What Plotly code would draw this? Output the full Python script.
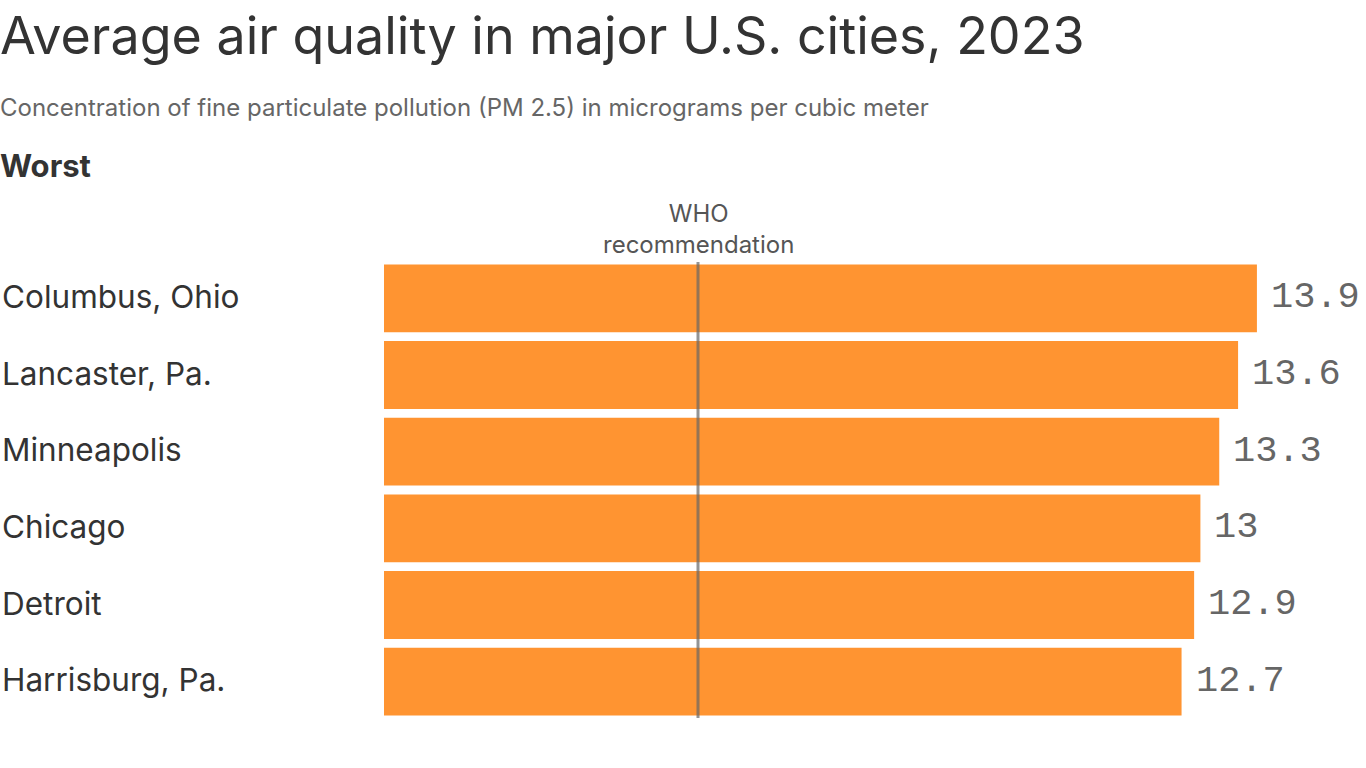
import plotly.graph_objects as go

cities = ["Columbus, Ohio", "Lancaster, Pa.", "Minneapolis", "Chicago", "Detroit", "Harrisburg, Pa."]
pm25 = [13.9, 13.6, 13.3, 13.0, 12.9, 12.7]
value_labels = ["13.9", "13.6", "13.3", "13", "12.9", "12.7"]
who_value = 5

W, H = 1366, 768
ML, MR, MT = 384, 0, 260
MB = H - 720
PW = W - ML - MR
PH = H - MT - MB
XMAX = PW / 62.8

def px_x(px):
    return (px - ML) / PW

def px_y(py):
    return (H - MB - py) / PH

fig = go.Figure()
fig.add_trace(go.Bar(
    y=cities, x=pm25, orientation="h",
    marker=dict(color="#FF9431", line=dict(width=0)),
    width=0.885, hoverinfo="skip",
))

annotations = []
for c, v, t in zip(cities, pm25, value_labels):
    annotations.append(dict(x=v, y=c, xref="x", yref="y", text=t, showarrow=False,
                            xanchor="left", xshift=12, yshift=1,
                            font=dict(family="Liberation Mono, monospace", size=37, color="#666666")))
    annotations.append(dict(x=px_x(0), y=c, xref="paper", yref="y", text=c, showarrow=False,
                            xanchor="left", yshift=2,
                            font=dict(family="Inter, Roboto, sans-serif", size=31.5, color="#333333")))

annotations += [
    dict(x=px_x(-2), y=px_y(35), xref="paper", yref="paper", text="Average air quality in major U.S. cities, 2023",
         showarrow=False, xanchor="left", yanchor="middle",
         font=dict(family="Inter, Roboto, sans-serif", size=52, color="#333333")),
    dict(x=px_x(-2), y=px_y(108), xref="paper", yref="paper",
         text="Concentration of fine particulate pollution (PM 2.5) in micrograms per cubic meter",
         showarrow=False, xanchor="left", yanchor="middle",
         font=dict(family="Inter, Roboto, sans-serif", size=24, color="#666666")),
    dict(x=px_x(-2), y=px_y(165), xref="paper", yref="paper", text="<b>Worst</b>",
         showarrow=False, xanchor="left", yanchor="middle",
         font=dict(family="Inter, Roboto, sans-serif", size=31, color="#333333")),
    dict(x=who_value, y=px_y(229), xref="x", yref="paper", text="WHO<br>recommendation",
         showarrow=False, xanchor="center", yanchor="middle",
         font=dict(family="Inter, Roboto, sans-serif", size=24, color="#555555")),
]

fig.add_shape(type="line", xref="x", yref="paper", x0=who_value, x1=who_value,
              y0=px_y(718), y1=px_y(262),
              line=dict(color="rgba(102,102,102,0.7)", width=3))

fig.update_layout(
    width=W, height=H,
    margin=dict(l=ML, r=MR, t=MT, b=MB),
    paper_bgcolor="white", plot_bgcolor="white",
    showlegend=False,
    xaxis=dict(range=[0, XMAX], visible=False, fixedrange=True),
    yaxis=dict(autorange="reversed", visible=False, fixedrange=True),
    annotations=annotations,
)

fig.write_html("out.html", config={"displayModeBar": False},
               post_script="document.body.style.margin='0';document.body.style.overflow='hidden';")
